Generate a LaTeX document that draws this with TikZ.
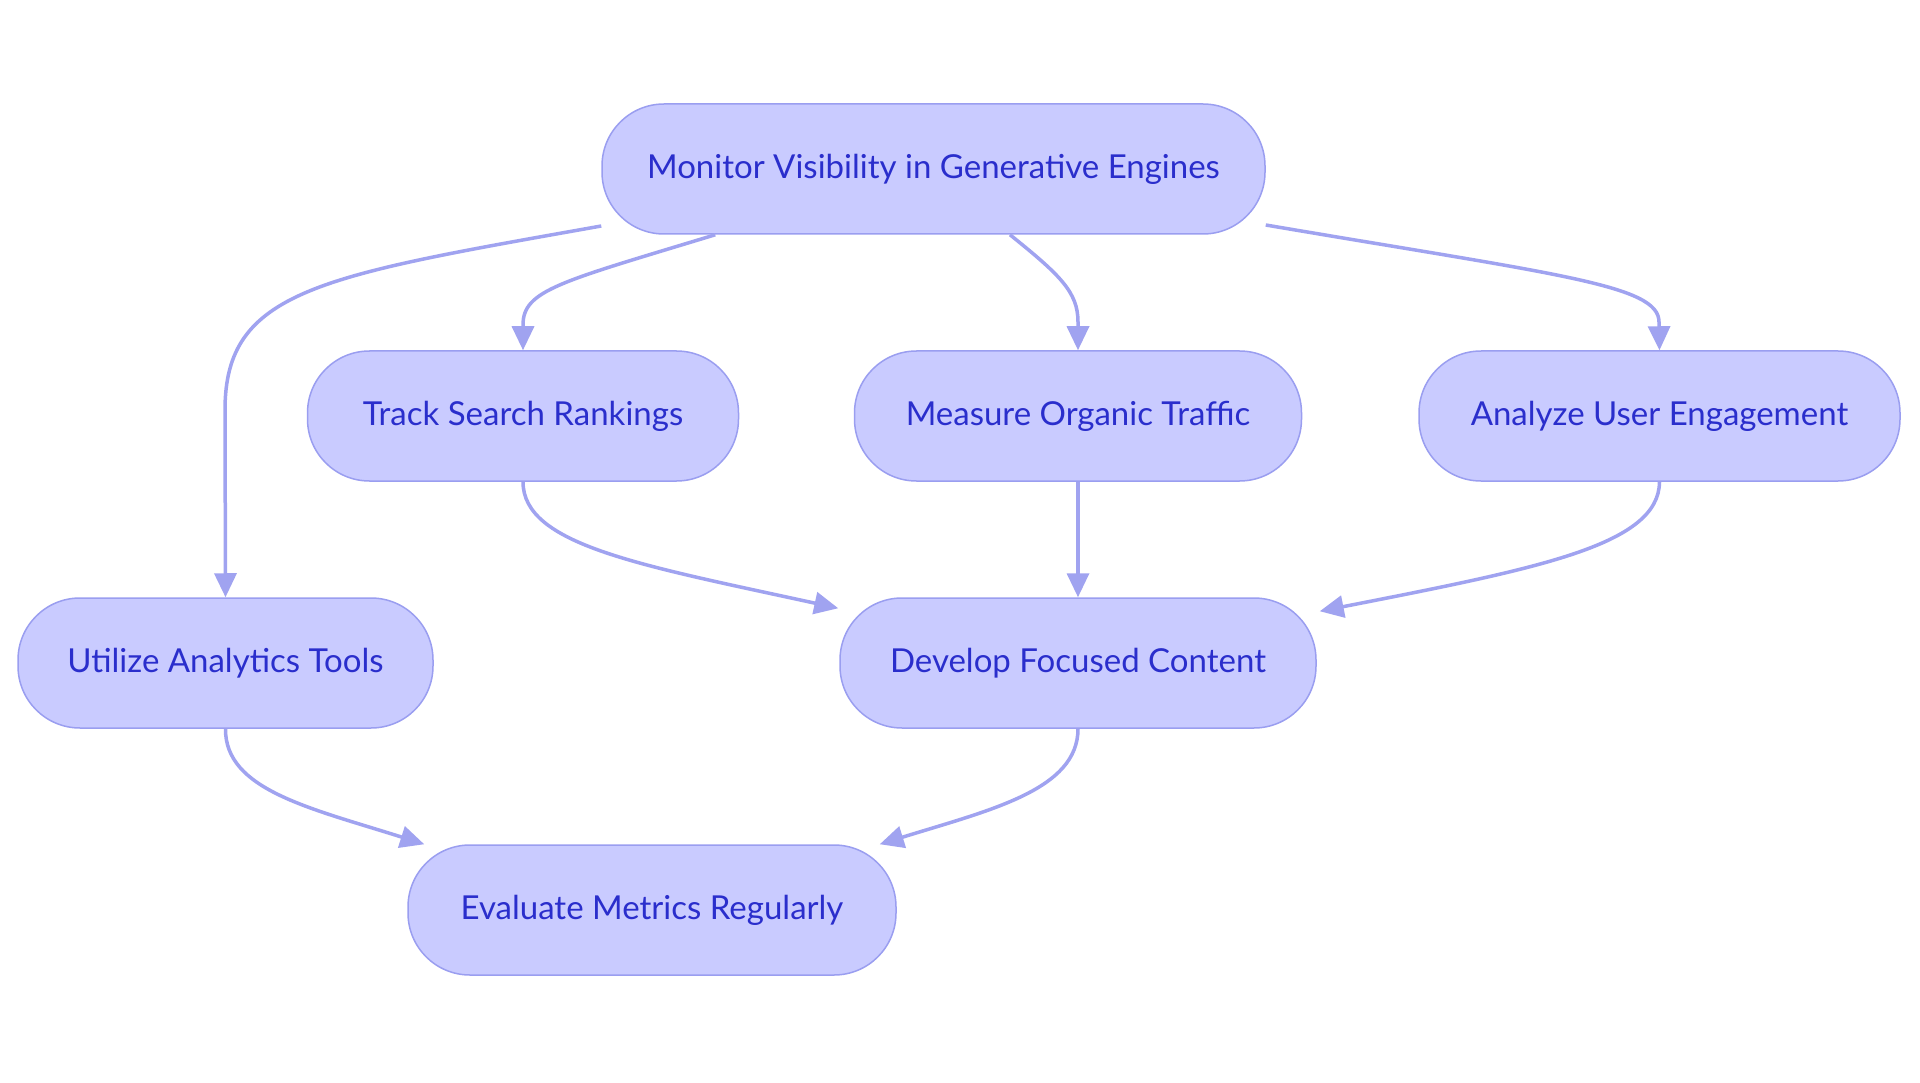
\documentclass[tikz,border=0pt]{standalone}
\usepackage{fontspec}
\setmainfont{Lato}
\usetikzlibrary{arrows.meta,calc}
\definecolor{nodefill}{HTML}{C9CBFF}
\definecolor{nodeline}{HTML}{9A9EF0}
\definecolor{edgecol}{HTML}{A0A3F0}
\definecolor{txtcol}{HTML}{2A2ECC}
\begin{document}
\begin{tikzpicture}[x=1pt,y=-1pt,
  box/.style={draw=nodeline, line width=1.5pt, fill=nodefill, rounded corners=62pt,
    minimum height=130pt, inner sep=0pt, text=txtcol, font=\fontsize{33}{40}\selectfont},
  flow/.style={draw=edgecol, line width=3.5pt, -{Triangle[length=24pt,width=22pt]}}]
\useasboundingbox (0,0) rectangle (1920,1083);
\fill[white] (0,0) rectangle (1920,1083);
\node[box, minimum width=663pt] (mon) at (933.5,169) {Monitor Visibility in Generative Engines};
\node[box, minimum width=431pt] (trk) at (523,416) {Track Search Rankings};
\node[box, minimum width=447pt] (mea) at (1078,416) {Measure Organic Traffic};
\node[box, minimum width=481pt] (ana) at (1659.5,416) {Analyze User Engagement};
\node[box, minimum width=415pt] (uti) at (225.5,663) {Utilize Analytics Tools};
\node[box, minimum width=476pt] (dev) at (1078,663) {Develop Focused Content};
\node[box, minimum width=488pt] (eva) at (652,910) {Evaluate Metrics Regularly};
\coordinate (m1) at ($(mon.west)+(0,57)$);
\coordinate (m2) at ($(mon.south west)+(114,0)$);
\coordinate (m3) at ($(mon.south)+(76.5,0)$);
\coordinate (m4) at ($(mon.east)+(0,56)$);
\draw[flow] (m1) .. controls (320,276) and (225,290) .. (225,410) -- (uti.north);
\draw[flow] (m2) .. controls (560,282) and (523,290) .. (523,325) -- (trk.north);
\draw[flow] (m3) .. controls (1060,275) and (1078,292) .. (1078,322) -- (mea.north);
\draw[flow] (m4) .. controls (1560,275) and (1659,285) .. (1659,322) -- (ana.north);
\draw[flow] (trk.south) .. controls (523,545) and (640,565) .. ($(dev.north west)+(-1,11)$);
\draw[flow] (mea.south) -- (dev.north);
\draw[flow] (ana.south) .. controls (1659,545) and (1540,568) .. ($(dev.north east)+(3,14)$);
\draw[flow] (uti.south) .. controls (225,790) and (310,808) .. ($(eva.north west)+(17,0)$);
\draw[flow] (dev.south) .. controls (1078,790) and (990,810) .. ($(eva.north east)+(-17,0)$);
\end{tikzpicture}
\end{document}
